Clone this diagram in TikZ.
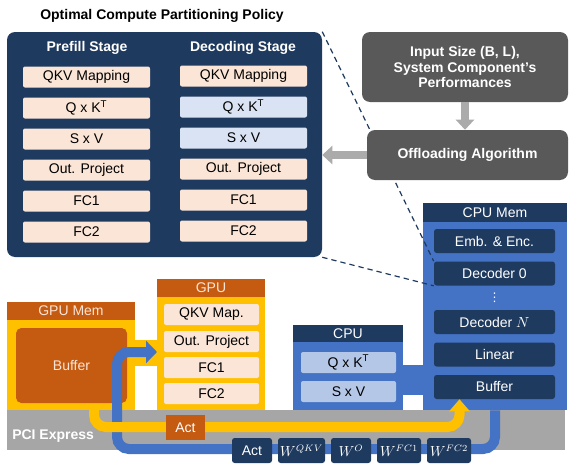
\documentclass[tikz,border=0pt]{standalone}
\usepackage{fontspec}
\setmainfont{Liberation Sans}
\newfontfamily\symfont{DejaVu Sans}
\usetikzlibrary{arrows.meta,positioning}

\definecolor{navy}{HTML}{1F3A5F}
\definecolor{cpublue}{HTML}{4472C4}
\definecolor{paleblue}{HTML}{DAE3F3}
\definecolor{lightblue}{HTML}{B4C7E7}
\definecolor{peach}{HTML}{FBE5D6}
\definecolor{rust}{HTML}{C55A11}
\definecolor{amber}{HTML}{FFC000}
\definecolor{busgray}{HTML}{A6A6A6}
\definecolor{feedgray}{HTML}{ABABAB}
\definecolor{slate}{HTML}{595959}

\newcommand\px[1]{#1*0.75pt}
\newcommand\txtsize{\fontsize{10.5}{11.6}\selectfont}

\tikzset{
  every node/.style={font=\txtsize, inner sep=0pt},
  panel/.style={fill=navy, rounded corners=6pt, minimum width=\px{315}, minimum height=\px{225}},
  stagehead/.style={text=white, font=\txtsize\bfseries},
  op/.style={fill=peach, rounded corners=1.5pt, minimum width=\px{127}, minimum height=\px{21}},
  darkbox/.style={fill=slate, text=white, font=\txtsize\bfseries, rounded corners=6pt, align=center},
  feed/.style={feedgray, line width=\px{8}, -{Triangle[width=\px{18},length=\px{10}]}},
  link/.style={navy, line width=0.9pt, dash pattern=on 4pt off 3pt},
  memhead/.style={text=white, minimum height=\px{19}},
  unit/.style={fill=navy, text=white, rounded corners=2pt, minimum width=\px{121}, minimum height=\px{24}},
  smallop/.style={rounded corners=1.5pt, minimum width=\px{95}, minimum height=\px{21}},
  tag/.style={fill=navy, text=white, rounded corners=2pt, minimum height=\px{25}},
  flow/.style={line width=\px{10}, rounded corners=\px{12}},
}

\begin{document}
\begin{tikzpicture}[x=0.75pt,y=-0.75pt]
\useasboundingbox (0,0) rectangle (569,468);

% partitioning policy
\node[font=\txtsize\bfseries] (title) at (162,16) {Optimal Compute Partitioning Policy};
\node[panel] (policy) at (164.5,144.5) {};
\node[stagehead] (prefill) at (87,48) {Prefill Stage};
\node[stagehead] (decoding) at (243,48) {Decoding Stage};
\foreach \nm/\txt/\rc [count=\i] in {qkv/QKV Mapping/peach, qk/Q x K\textsuperscript{T}/paleblue, sv/S x V/paleblue, out/Out. Project/peach, fcone/FC1/peach, fctwo/FC2/peach}{
  \node[op] (pre-\nm) at (86.5,46+31*\i) {\txt};
  \node[op, fill=\rc] (dec-\nm) at (243.5,45+31*\i) {\txt};
}

% PCI bus
\node[fill=busgray, minimum width=\px{558}, minimum height=\px{40}] (pci) at (286,430) {};
\node[anchor=west, text=white, font=\txtsize\bfseries] (pcilabel) at (12,436) {PCI Express};

% CPU memory
\node[fill=cpublue, minimum width=\px{144}, minimum height=\px{207}] (cpumem) at (495,306.5) {};
\node[memhead, fill=navy, minimum width=\px{144}] (cpumem-head) at (495,212.5) {CPU Mem};
\node[unit] (emb) at (494.5,241) {Emb. \& Enc.};
\node[unit] (dec0) at (494.5,273.5) {Decoder 0};
\node[text=white, font=\symfont\fontsize{9}{10}\selectfont] (dots) at (494.5,298) {⋮};
\node[unit] (decN) at (494.5,322) {Decoder $N$};
\node[unit] (linear) at (494.5,354.5) {Linear};
\node[unit] (cbuf) at (494.5,387) {Buffer};

% CPU
\node[fill=cpublue, minimum width=\px{110}, minimum height=\px{85}] (cpu) at (348,367.5) {};
\node[memhead, fill=navy, minimum width=\px{110}, minimum height=\px{17}] (cpu-head) at (348,333.5) {CPU};
\node[smallop, fill=lightblue] (cpu-qk) at (348.5,362.5) {Q x K\textsuperscript{T}};
\node[smallop, fill=lightblue] (cpu-sv) at (348.5,391.5) {S x V};
\fill[cpublue] (403,365) rectangle (423,395);

% GPU memory
\node[fill=amber, minimum width=\px{128}, minimum height=\px{108}] (gpumem) at (71,356) {};
\node[memhead, fill=rust, text=peach, minimum width=\px{128}, minimum height=\px{18}] (gpumem-head) at (71,311) {GPU Mem};
\node[fill=rust, text=peach, rounded corners=4pt, minimum width=\px{111}, minimum height=\px{75}] (gbuf) at (71.5,365.5) {Buffer};

% GPU
\node[fill=amber, minimum width=\px{108}, minimum height=\px{131}] (gpu) at (211,344.5) {};
\node[memhead, fill=rust, text=peach, minimum width=\px{108}, minimum height=\px{18}] (gpu-head) at (211,288) {GPU};
\node[smallop, fill=peach] (gpu-qkv) at (211.5,314.5) {QKV Map.};
\node[smallop, fill=peach] (gpu-out) at (211.5,341.5) {Out. Project};
\node[smallop, fill=peach] (gpu-fcone) at (211.5,367.5) {FC1};
\node[smallop, fill=peach] (gpu-fctwo) at (211.5,393.5) {FC2};
\fill[amber] (135,340) rectangle (157,366);

% transfers over the bus
\coordinate (ytap) at (94,404);
\coordinate (ylane) at (300,427);
\coordinate (bturn) at (117,400);
\coordinate (blane) at (300,449);
\coordinate (gpuin) at (157,352);
\draw[flow, cpublue, -{Triangle[width=\px{22},length=\px{11}]}] (cpumem.south) |- (blane) -| (bturn) |- (gpuin);
\draw[flow, amber, -{Triangle[width=\px{20},length=\px{12}]}] (ytap) |- (ylane) -| ([xshift=-\px{35}]cbuf.south);
\node[fill=rust, text=white, minimum width=\px{39}, minimum height=\px{25}] (act-up) at (185.5,427.5) {Act};
\node[tag, minimum width=\px{40}] (act-down) at (252,450.5) {Act};
\node[tag, minimum width=\px{47}] (w-qkv) at (301.5,450.5) {$W^{QKV}$};
\node[tag, minimum width=\px{40}] (w-o) at (351,450.5) {$W^{O}$};
\node[tag, minimum width=\px{44}] (w-fc1) at (399,450.5) {$W^{FC1}$};
\node[tag, minimum width=\px{44}] (w-fc2) at (449,450.5) {$W^{FC2}$};

% offloading algorithm
\draw[link] (policy.north east) -- (dec0.north west);
\draw[link] (policy.south east) -- (dec0.south west);
\node[darkbox, minimum width=\px{206}, minimum height=\px{70}] (input) at (465,67) {Input Size (B, L),\\System Component’s\\Performances};
\node[darkbox, minimum width=\px{201}, minimum height=\px{50}] (algo) at (467.5,155) {Offloading Algorithm};
\draw[feed] (input.south) -- (input.south |- algo.north);
\draw[feed] (algo.west) -- (algo.west -| policy.east);
\end{tikzpicture}
\end{document}
